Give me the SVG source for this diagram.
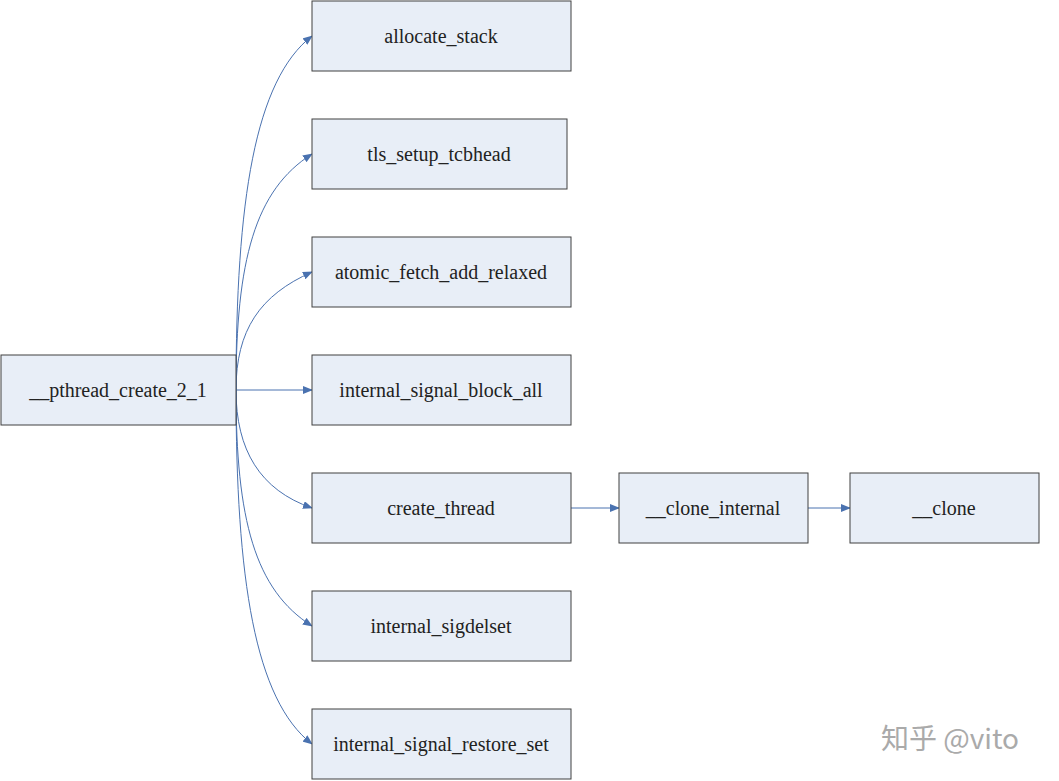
<svg xmlns="http://www.w3.org/2000/svg" width="1059" height="781" viewBox="0 0 1059 781">
<style>
.n rect{fill:#E8EEF7;stroke:#404040;stroke-width:1}
.n text{font-family:"Liberation Serif",serif;font-size:20px;fill:#222;text-anchor:middle;dominant-baseline:central}
.e path{fill:none;stroke:#4A72B0;stroke-width:1;marker-end:url(#a)}
</style>
<defs><marker id="a" markerWidth="10" markerHeight="8" refX="9" refY="4" orient="auto" markerUnits="userSpaceOnUse"><path d="M0,0 L10,4 L0,8 z" fill="#4A72B0"/></marker></defs>
<rect width="1059" height="781" fill="#fff"/>
<g class="e">
<path d="M236,390 C236,200 255,80 312,36"/>
<path d="M236,390 C236,260 255,190 312,154"/>
<path d="M236,390 C236,330 260,295 312,272"/>
<path d="M236,390 L312,390"/>
<path d="M236,390 C236,450 260,490 312,508"/>
<path d="M236,390 C236,520 255,590 312,626"/>
<path d="M236,390 C236,580 255,700 312,744"/>
<path d="M571,508 L619,508"/>
<path d="M808,508 L850,508"/>
</g>
<g class="n" id="n0"><rect x="1" y="355" width="235" height="70"/><text x="118" y="390">__pthread_create_2_1</text></g>
<g class="n" id="n1"><rect x="312" y="1" width="259" height="70"/><text x="441" y="36">allocate_stack</text></g>
<g class="n" id="n2"><rect x="312" y="119" width="255" height="70"/><text x="439" y="154">tls_setup_tcbhead</text></g>
<g class="n" id="n3"><rect x="312" y="237" width="259" height="70"/><text x="441" y="272">atomic_fetch_add_relaxed</text></g>
<g class="n" id="n4"><rect x="312" y="355" width="259" height="70"/><text x="441" y="390">internal_signal_block_all</text></g>
<g class="n" id="n5"><rect x="312" y="473" width="259" height="70"/><text x="441" y="508">create_thread</text></g>
<g class="n" id="n6"><rect x="312" y="591" width="259" height="70"/><text x="441" y="626">internal_sigdelset</text></g>
<g class="n" id="n7"><rect x="312" y="709" width="259" height="70"/><text x="441" y="744">internal_signal_restore_set</text></g>
<g class="n" id="n8"><rect x="619" y="473" width="189" height="70"/><text x="713" y="508">__clone_internal</text></g>
<g class="n" id="n9"><rect x="850" y="473" width="189" height="70"/><text x="944" y="508">__clone</text></g>
<text x="950" y="737" font-family="'Noto Sans CJK SC',sans-serif" font-size="28" fill="#aaa" text-anchor="middle" dominant-baseline="central">知乎 @vito</text>
</svg>
